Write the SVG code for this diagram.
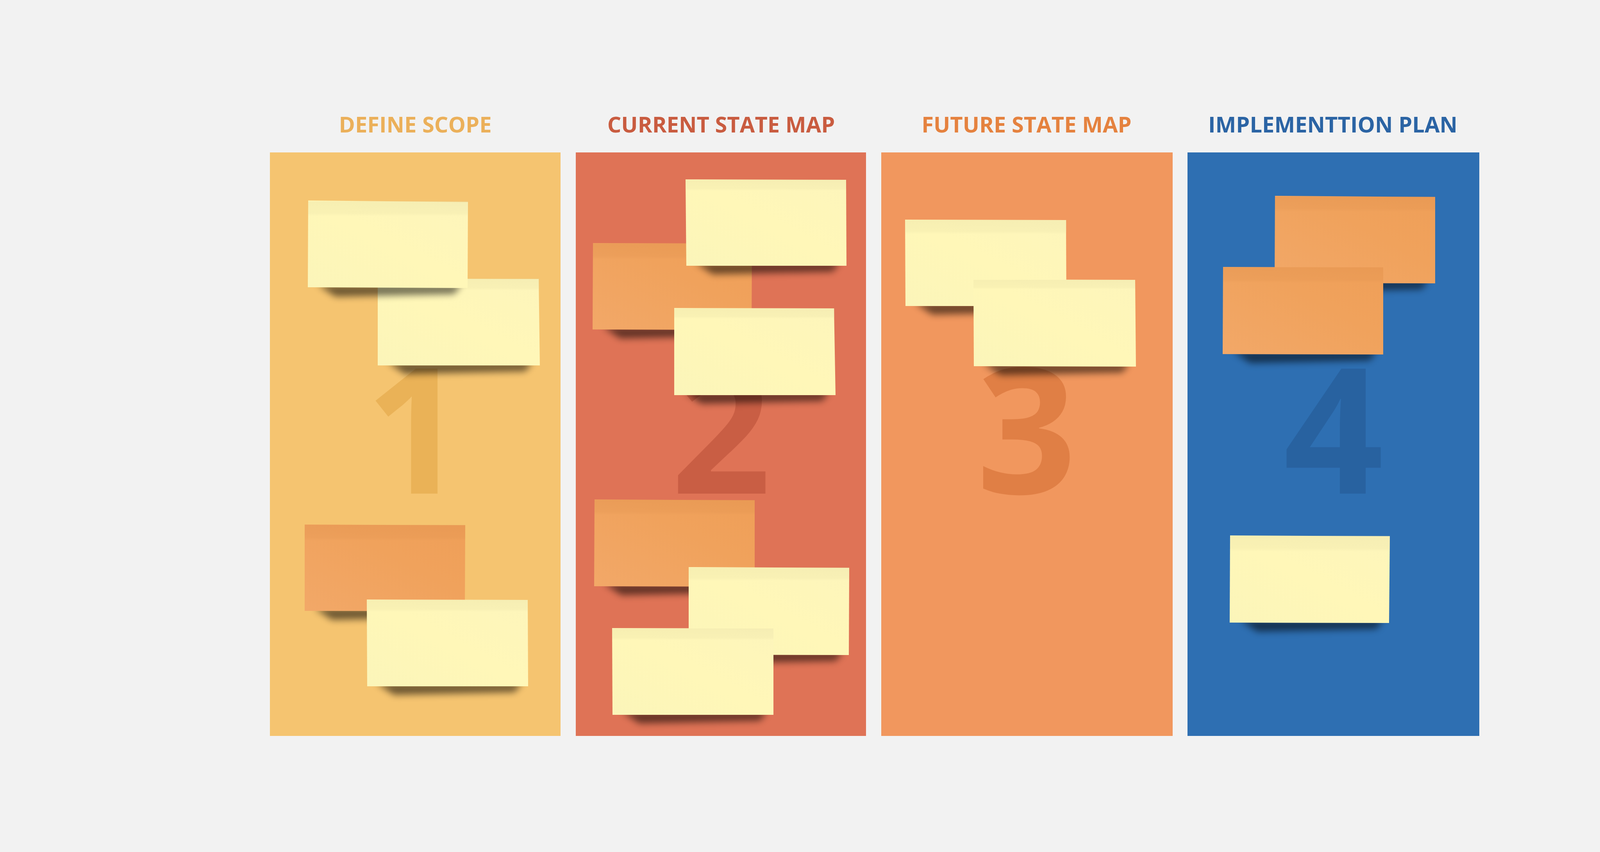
<svg xmlns="http://www.w3.org/2000/svg" width="4480" height="2180" viewBox="0 0 4480 2180">
<defs>
<style>
.title{font-family:"Open Sans","Liberation Sans",sans-serif;font-weight:700;font-size:56px;text-anchor:middle}
.num{font-family:"Open Sans","Liberation Sans",sans-serif;font-weight:700;font-size:448px;text-anchor:middle}
.shadow{fill:#000;opacity:0.55;filter:url(#blur)}
.y{fill:url(#gy)}
.o{fill:url(#go)}
.band-y{fill:url(#by)}
.band-o{fill:url(#bo)}
</style>
<filter id="blur" x="-20%" y="-200%" width="140%" height="500%">
<feGaussianBlur stdDeviation="9"/>
</filter>
<linearGradient id="gy" x1="0" y1="1" x2="1" y2="0">
<stop offset="0" stop-color="#fbf5b9"/>
<stop offset="0.5" stop-color="#fff7b8"/>
<stop offset="1" stop-color="#fdf5bb"/>
</linearGradient>
<linearGradient id="go" x1="0" y1="1" x2="1" y2="0">
<stop offset="0" stop-color="#f2a868"/>
<stop offset="0.6" stop-color="#f0a25c"/>
<stop offset="1" stop-color="#ef9f58"/>
</linearGradient>
<linearGradient id="by" x1="0" y1="0" x2="0" y2="1">
<stop offset="0" stop-color="#e8e0a6" stop-opacity="0.35"/>
<stop offset="0.8" stop-color="#e8e0a6" stop-opacity="0.25"/>
<stop offset="1" stop-color="#e8e0a6" stop-opacity="0"/>
</linearGradient>
<linearGradient id="bo" x1="0" y1="0" x2="0" y2="1">
<stop offset="0" stop-color="#dc8e4c" stop-opacity="0.3"/>
<stop offset="0.8" stop-color="#dc8e4c" stop-opacity="0.2"/>
<stop offset="1" stop-color="#dc8e4c" stop-opacity="0"/>
</linearGradient>
</defs>
<rect x="0" y="0" width="4480" height="2180" fill="#f2f2f2"/>

<g id="col1">
<text class="title" x="1063" y="339" fill="#ebb05a">DEFINE SCOPE</text>
<rect x="691" y="390" width="744" height="1493" fill="#f5c470"/>
<text class="num" x="1063" y="1263" fill="#eab257">1</text>
<g id="note-b"><polygon class="shadow" points="992,927 1364,927 1344,950 1037,957"/><polygon class="y" points="967,713 1379,714 1382,935 967,935"/><rect class="band-y" x="967" y="713" width="413" height="30"/></g>
<g id="note-a"><polygon class="shadow" points="814,729 1182,729 1162,752 859,759"/><polygon class="y" points="789,513 1198,517 1197,737 788,735"/><rect class="band-y" x="789" y="515" width="409" height="38"/></g>
<g id="note-c"><polygon class="shadow" points="805,1556 1176,1556 1156,1579 850,1586"/><polygon class="o" points="780,1342 1191,1344 1190,1564 780,1563"/><rect class="band-o" x="780" y="1343" width="411" height="40"/></g>
<g id="note-d"><polygon class="shadow" points="964,1748 1337,1748 1317,1771 1009,1778"/><polygon class="y" points="939,1534 1351,1535 1352,1756 940,1756"/><rect class="band-y" x="939" y="1535" width="412" height="30"/></g>
</g>

<g id="col2">
<text class="title" x="1846" y="339" fill="#c95c40">CURRENT STATE MAP</text>
<rect x="1474" y="390" width="743" height="1493" fill="#df7356"/>
<text class="num" x="1846" y="1263" fill="#c95e44">2</text>
<g id="note-f"><polygon class="shadow" points="1543,836 1910,836 1890,859 1588,866"/><polygon class="o" points="1518,622 1925,623 1924,844 1517,843"/><rect class="band-o" x="1518" y="623" width="407" height="40"/></g>
<g id="note-e"><polygon class="shadow" points="1780,672 2151,672 2131,695 1825,702"/><polygon class="y" points="1755,459 2166,460 2167,680 1757,680"/><rect class="band-y" x="1755" y="460" width="411" height="28"/></g>
<g id="note-g"><polygon class="shadow" points="1751,1003 2124,1003 2104,1026 1796,1033"/><polygon class="y" points="1726,788 2135,789 2139,1011 1726,1011"/><rect class="band-y" x="1726" y="789" width="410" height="26"/></g>
<g id="note-h"><polygon class="shadow" points="1546,1493 1917,1493 1897,1516 1591,1523"/><polygon class="o" points="1522,1278 1932,1280 1932,1501 1521,1500"/><rect class="band-o" x="1522" y="1279" width="410" height="38"/></g>
<g id="note-i"><polygon class="shadow" points="1788,1668 2159,1668 2139,1691 1833,1698"/><polygon class="y" points="1763,1451 2174,1453 2173,1676 1763,1675"/><rect class="band-y" x="1763" y="1452" width="411" height="34"/></g>
<g id="note-j"><polygon class="shadow" points="1592,1821 1965,1821 1945,1844 1637,1851"/><polygon class="y" points="1567,1607 1980,1608 1980,1829 1568,1829"/><rect class="band-y" x="1567" y="1608" width="413" height="30"/></g>
</g>

<g id="col3">
<text class="title" x="2628" y="339" fill="#e5823f">FUTURE STATE MAP</text>
<rect x="2256" y="390" width="746" height="1493" fill="#f1975e"/>
<text class="num" x="2628" y="1263" fill="#e07f45">3</text>
<g id="note-k"><polygon class="shadow" points="2342,775 2715,775 2695,798 2387,805"/><polygon class="y" points="2317,562 2729,563 2730,783 2318,783"/><rect class="band-y" x="2317" y="563" width="413" height="36"/></g>
<g id="note-l"><polygon class="shadow" points="2517,930 2892,930 2872,953 2562,960"/><polygon class="y" points="2492,715 2906,716 2908,938 2493,937"/><rect class="band-y" x="2492" y="716" width="414" height="24"/></g>
</g>

<g id="col4">
<text class="title" x="3412" y="339" fill="#2b64a4">IMPLEMENTTION PLAN</text>
<rect x="3040" y="390" width="747" height="1493" fill="#2e6fb2"/>
<text class="num" x="3414" y="1263" fill="#2862a0">4</text>
<g id="note-m"><polygon class="shadow" points="3288,717 3659,717 3639,740 3333,747"/><polygon class="o" points="3264,501 3674,504 3674,725 3263,724"/><rect class="band-o" x="3264" y="503" width="410" height="38"/></g>
<g id="note-n"><polygon class="shadow" points="3156,899 3526,899 3506,922 3201,929"/><polygon class="o" points="3131,683 3541,684 3541,907 3130,906"/><rect class="band-o" x="3131" y="684" width="410" height="40"/></g>
<g id="note-o"><polygon class="shadow" points="3174,1586 3543,1586 3523,1609 3219,1616"/><polygon class="y" points="3149,1370 3558,1372 3556,1594 3148,1593"/><rect class="band-y" x="3149" y="1371" width="409" height="40"/></g>
</g>
</svg>
